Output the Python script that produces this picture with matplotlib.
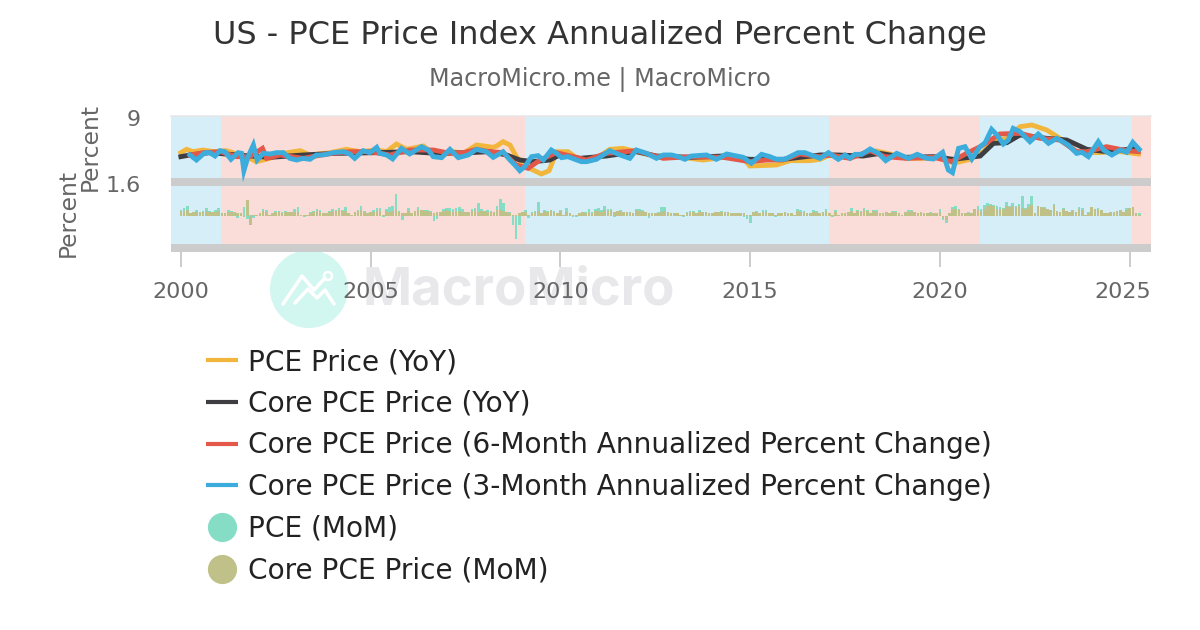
import numpy as np
import matplotlib
matplotlib.use('Agg')
import matplotlib.pyplot as plt
from matplotlib.lines import Line2D
from matplotlib.patches import Circle
from matplotlib.transforms import ScaledTranslation

# Line series: dates as decimal years, values in percent
pce_yoy_x = [2000.0, 2000.15, 2000.32, 2000.59, 2000.85, 2001.20, 2001.55, 2001.82, 2001.99, 2002.34, 2002.70, 2003.14,
             2003.40, 2003.93, 2004.36, 2004.72, 2005.16, 2005.42, 2005.68, 2005.95, 2006.39, 2006.74, 2007.18, 2007.44,
             2007.79, 2008.23, 2008.32, 2008.49, 2008.67, 2008.84, 2009.02, 2009.24, 2009.50, 2009.70, 2009.90, 2010.20,
             2010.51, 2010.95, 2011.30, 2011.65, 2012.00, 2012.53, 2013.06, 2013.76, 2014.29, 2014.82, 2014.99, 2015.69,
             2016.05, 2016.57, 2016.84, 2017.10, 2017.54, 2017.89, 2018.33, 2018.60, 2019.12, 2019.65, 2020.09, 2020.35,
             2020.79, 2021.14, 2021.41, 2021.76, 2022.11, 2022.42, 2022.81, 2023.16, 2023.60, 2024.13, 2024.75, 2025.23]
pce_yoy = [2.68, 3.25, 2.85, 3.14, 2.85, 3.02, 2.28, 1.70, 1.13, 1.70, 2.56, 3.02,
           2.28, 2.68, 3.25, 2.85, 3.14, 2.85, 4.17, 3.25, 3.83, 1.99, 2.85, 2.56,
           4.00, 3.60, 3.83, 4.57, 4.00, 1.99, 0.55, -0.20, -1.00, -0.43, 2.85, 2.85,
           1.41, 1.70, 3.25, 3.42, 2.85, 1.99, 1.99, 1.41, 1.87, 1.70, 0.38, 0.55,
           1.30, 1.30, 1.53, 2.28, 1.99, 2.28, 2.97, 2.56, 1.70, 1.70, 1.99, 0.84,
           1.53, 2.85, 4.57, 5.15, 7.16, 7.45, 6.59, 5.15, 2.85, 2.68, 2.85, 2.45]

core_yoy_x = [2000.0, 2000.24, 2000.76, 2001.47, 2002.35, 2003.22, 2004.10, 2005.16, 2006.03, 2006.74, 2007.61, 2008.14,
              2008.58, 2008.93, 2009.28, 2009.72, 2009.98, 2010.51, 2011.21, 2012.00, 2012.53, 2013.41, 2014.29, 2014.99,
              2015.87, 2016.31, 2016.84, 2017.28, 2017.98, 2018.42, 2019.04, 2019.83, 2020.35, 2021.06, 2021.41, 2021.76,
              2022.11, 2022.81, 2023.34, 2023.87, 2024.39, 2025.18]
core_yoy = [1.99, 2.28, 2.68, 2.28, 1.87, 2.28, 2.56, 2.68, 2.85, 2.56, 2.68, 2.85,
            2.28, 1.41, 1.13, 1.41, 2.28, 1.70, 2.10, 2.85, 2.10, 1.87, 2.10, 1.53,
            1.53, 1.87, 2.28, 2.28, 2.10, 2.56, 1.87, 1.99, 1.53, 2.10, 4.29, 4.40,
            5.73, 5.15, 4.86, 3.25, 2.85, 3.42]

core_6m_x = [2000.24, 2000.59, 2001.03, 2001.47, 2001.82, 2002.15, 2002.26, 2002.61, 2003.22, 2003.84, 2004.45, 2004.98,
             2005.51, 2006.03, 2006.65, 2007.09, 2007.44, 2007.79, 2008.14, 2008.49, 2008.84, 2009.15, 2009.46, 2009.90,
             2010.34, 2010.69, 2011.21, 2012.00, 2012.71, 2013.41, 2014.29, 2014.99, 2015.43, 2015.87, 2016.31, 2016.84,
             2017.10, 2017.63, 2018.16, 2018.55, 2019.12, 2019.83, 2020.31, 2020.70, 2021.06, 2021.58, 2022.11, 2022.64,
             2023.16, 2023.60, 2023.87, 2024.39, 2024.92, 2025.23]
core_6m = [2.28, 2.68, 2.85, 1.99, 1.99, 3.42, 1.70, 2.28, 1.70, 2.45, 2.85, 2.85,
           2.28, 3.14, 3.14, 2.56, 2.68, 3.25, 2.85, 2.68, 0.55, -0.02, 1.41, 2.68,
           1.99, 1.41, 2.56, 3.02, 1.70, 1.99, 1.87, 1.13, 1.41, 1.41, 2.45, 1.99,
           2.28, 1.70, 3.02, 1.99, 1.70, 1.87, 1.13, 2.56, 3.71, 5.90, 6.01, 5.15,
           4.86, 2.85, 2.85, 3.71, 3.02, 2.85]

core_3m_x = [2000.24, 2000.41, 2000.63, 2000.76, 2000.90, 2001.03, 2001.16, 2001.32, 2001.51, 2001.60, 2001.66, 2001.77,
             2001.91, 2002.01, 2002.17, 2002.35, 2002.52, 2002.70, 2002.87, 2003.05, 2003.22, 2003.40, 2003.57, 2003.75,
             2004.01, 2004.28, 2004.45, 2004.58, 2004.80, 2004.98, 2005.16, 2005.24, 2005.42, 2005.58, 2005.81, 2006.03,
             2006.34, 2006.52, 2006.65, 2006.87, 2007.09, 2007.31, 2007.57, 2007.79, 2008.05, 2008.23, 2008.49, 2008.67,
             2008.80, 2008.93, 2009.06, 2009.24, 2009.41, 2009.55, 2009.76, 2009.90, 2010.03, 2010.20, 2010.38, 2010.55,
             2010.69, 2010.95, 2011.30, 2011.57, 2011.83, 2012.00, 2012.27, 2012.53, 2012.71, 2012.93, 2013.10, 2013.28,
             2013.45, 2013.85, 2014.11, 2014.38, 2014.64, 2014.82, 2015.03, 2015.30, 2015.52, 2015.69, 2015.91, 2016.26,
             2016.44, 2016.84, 2017.06, 2017.32, 2017.50, 2017.63, 2017.76, 2017.94, 2018.16, 2018.38, 2018.57, 2018.86,
             2019.17, 2019.40, 2019.65, 2019.83, 2020.07, 2020.22, 2020.33, 2020.49, 2020.66, 2020.84, 2021.04, 2021.19,
             2021.36, 2021.50, 2021.67, 2021.80, 2021.93, 2022.11, 2022.37, 2022.59, 2022.86, 2023.08, 2023.38, 2023.60,
             2023.74, 2023.91, 2024.17, 2024.31, 2024.53, 2024.75, 2024.92, 2025.08, 2025.25]
core_3m = [2.28, 1.41, 2.68, 2.68, 2.10, 3.02, 2.85, 1.53, 2.68, 2.56, -0.43, 1.99,
           4.00, 1.41, 2.56, 2.45, 2.68, 2.68, 1.70, 1.41, 1.70, 1.53, 2.28, 2.28,
           2.68, 2.85, 2.45, 1.70, 3.02, 2.68, 3.60, 2.56, 2.28, 1.59, 3.42, 2.45,
           3.71, 3.14, 1.99, 1.82, 3.25, 1.82, 2.28, 3.25, 2.85, 1.87, 2.85, 1.41,
           0.55, -0.43, 0.26, 1.99, 2.16, 1.41, 3.14, 2.56, 1.82, 1.99, 1.53, 1.13,
           1.13, 1.53, 3.02, 2.28, 1.70, 3.14, 2.56, 1.70, 2.28, 2.28, 1.99, 1.53,
           2.10, 2.28, 1.53, 2.45, 2.10, 1.87, 0.84, 2.39, 1.99, 1.53, 1.53, 2.68,
           2.68, 1.70, 2.68, 1.53, 2.28, 1.70, 2.39, 2.39, 3.31, 2.56, 1.30, 2.56,
           1.70, 2.39, 1.70, 1.59, 2.74, -0.31, -0.77, 3.42, 3.71, 1.59, 3.60, 4.40,
           6.70, 5.73, 4.17, 4.86, 6.87, 6.30, 4.57, 5.90, 4.29, 5.15, 4.00, 2.56,
           2.74, 1.99, 4.57, 3.14, 2.28, 3.14, 2.74, 4.46, 3.25]

# Monthly changes from Jan 2000, one row per year
pce_mom = [0.25, 0.35, 0.45, 0.10, 0.15, 0.25, 0.15, 0.20, 0.35, 0.20, 0.15, 0.25,
           0.35, 0.10, 0.10, 0.25, 0.20, 0.15, -0.10, 0.05, 0.40, -0.15, 0.05, -0.10,
           0.05, 0.10, 0.30, 0.25, 0.05, 0.10, 0.20, 0.20, 0.15, 0.20, 0.15, 0.15,
           0.30, 0.40, 0.05, -0.05, 0.05, 0.15, 0.20, 0.30, 0.25, 0.10, 0.05, 0.20,
           0.30, 0.25, 0.35, 0.25, 0.40, 0.10, 0.05, 0.15, 0.25, 0.45, 0.20, 0.10,
           0.15, 0.25, 0.35, 0.35, -0.05, 0.30, 0.40, 0.45, 1.05, 0.20, -0.20, 0.10,
           0.35, 0.05, 0.15, 0.40, 0.25, 0.25, 0.25, 0.20, -0.25, -0.15, 0.10, 0.30,
           0.35, 0.35, 0.30, 0.35, 0.40, 0.30, 0.15, 0.15, 0.30, 0.35, 0.60, 0.30,
           0.20, 0.25, 0.20, 0.15, 0.45, 0.80, 0.60, 0.15, 0.15, -0.43, -1.10, -0.43,
           0.15, 0.25, -0.10, 0.15, 0.20, 0.65, 0.05, 0.25, 0.20, 0.25, 0.20, 0.10,
           0.25, 0.05, 0.35, 0.10, -0.05, -0.05, 0.05, 0.15, 0.15, 0.30, 0.15, 0.30,
           0.35, 0.25, 0.45, 0.30, 0.30, -0.05, 0.20, 0.25, 0.15, 0.05, 0.10, 0.10,
           0.30, 0.30, 0.25, 0.05, -0.10, 0.05, 0.10, 0.15, 0.40, 0.40, 0.15, 0.10,
           0.05, 0.10, 0.05, -0.05, 0.15, 0.20, 0.20, 0.10, 0.25, 0.15, 0.10, 0.10,
           0.10, 0.15, 0.15, 0.20, 0.15, 0.15, 0.10, 0.05, 0.10, 0.10, -0.05, -0.15,
           -0.35, 0.15, 0.20, 0.10, 0.25, 0.25, 0.10, 0.10, -0.05, 0.10, 0.05, 0.15,
           0.05, 0.10, 0.05, 0.30, 0.25, 0.20, 0.05, 0.10, 0.25, 0.20, 0.10, 0.15,
           0.30, 0.10, -0.05, 0.25, 0.05, 0.10, 0.05, 0.15, 0.35, 0.10, 0.25, 0.20,
           0.35, 0.25, 0.10, 0.25, 0.25, 0.10, 0.10, 0.15, 0.10, 0.20, 0.20, 0.10,
           0.05, 0.15, 0.25, 0.25, 0.15, 0.10, 0.15, 0.10, 0.10, 0.15, 0.10, 0.10,
           0.30, -0.20, -0.35, 0.10, 0.40, 0.45, 0.30, 0.10, 0.10, 0.15, 0.05, 0.20,
           0.45, 0.30, 0.50, 0.60, 0.55, 0.50, 0.45, 0.40, 0.35, 0.65, 0.45, 0.60,
           0.45, 0.55, 0.95, 0.35, 0.55, 0.95, 0.10, 0.05, 0.35, 0.40, 0.30, 0.25,
           0.55, 0.20, 0.15, 0.35, 0.20, 0.15, 0.25, 0.15, 0.40, 0.35, 0.05, 0.15,
           0.40, 0.30, 0.35, 0.25, 0.05, 0.05, 0.15, 0.15, 0.15, 0.25, 0.15, 0.35,
           0.35, 0.35, 0.10, 0.10]
core_mom = [0.20, 0.20, 0.25, 0.10, 0.15, 0.15, 0.15, 0.15, 0.20, 0.15, 0.15, 0.15,
            0.20, 0.10, 0.10, 0.15, 0.15, 0.15, 0.10, 0.10, -0.05, 0.75, -0.45, 0.05,
            0.05, 0.10, 0.20, 0.15, 0.05, 0.10, 0.15, 0.15, 0.10, 0.15, 0.15, 0.15,
            0.15, 0.15, 0.05, 0.05, 0.05, 0.10, 0.15, 0.20, 0.15, 0.10, 0.10, 0.15,
            0.20, 0.20, 0.25, 0.20, 0.20, 0.10, 0.05, 0.15, 0.20, 0.25, 0.15, 0.10,
            0.15, 0.15, 0.20, 0.20, 0.05, 0.20, 0.15, 0.20, 0.25, 0.15, 0.10, 0.10,
            0.20, 0.10, 0.20, 0.25, 0.25, 0.20, 0.20, 0.15, 0.10, 0.15, 0.15, 0.20,
            0.25, 0.20, 0.15, 0.15, 0.20, 0.15, 0.15, 0.15, 0.20, 0.25, 0.15, 0.20,
            0.20, 0.15, 0.15, 0.15, 0.25, 0.25, 0.20, 0.15, 0.10, 0.05, 0.05, 0.10,
            0.15, 0.15, 0.05, 0.10, 0.15, 0.20, 0.10, 0.20, 0.15, 0.25, 0.15, 0.10,
            0.20, 0.05, 0.15, 0.10, 0.05, 0.05, 0.10, 0.15, 0.10, 0.15, 0.10, 0.20,
            0.20, 0.15, 0.25, 0.20, 0.25, 0.15, 0.20, 0.20, 0.15, 0.15, 0.15, 0.10,
            0.25, 0.20, 0.20, 0.15, 0.10, 0.10, 0.10, 0.10, 0.15, 0.20, 0.15, 0.10,
            0.10, 0.10, 0.05, 0.05, 0.10, 0.15, 0.15, 0.10, 0.15, 0.15, 0.15, 0.10,
            0.10, 0.15, 0.15, 0.15, 0.15, 0.15, 0.10, 0.10, 0.10, 0.10, 0.10, 0.05,
            0.05, 0.15, 0.15, 0.10, 0.15, 0.15, 0.10, 0.10, 0.05, 0.10, 0.10, 0.15,
            0.10, 0.10, 0.05, 0.20, 0.15, 0.15, 0.10, 0.10, 0.15, 0.15, 0.10, 0.15,
            0.20, 0.10, 0.05, 0.15, 0.05, 0.10, 0.10, 0.15, 0.20, 0.10, 0.20, 0.15,
            0.25, 0.20, 0.10, 0.20, 0.15, 0.10, 0.10, 0.15, 0.10, 0.15, 0.15, 0.10,
            0.05, 0.15, 0.15, 0.20, 0.15, 0.10, 0.15, 0.10, 0.10, 0.10, 0.10, 0.10,
            0.15, -0.10, -0.20, 0.10, 0.30, 0.30, 0.25, 0.10, 0.10, 0.10, 0.10, 0.30,
            0.25, 0.20, 0.30, 0.45, 0.50, 0.45, 0.30, 0.30, 0.30, 0.45, 0.40, 0.45,
            0.40, 0.45, 0.35, 0.30, 0.40, 0.50, 0.10, 0.45, 0.40, 0.35, 0.30, 0.25,
            0.50, 0.20, 0.15, 0.30, 0.20, 0.15, 0.25, 0.15, 0.30, 0.25, 0.05, 0.10,
            0.40, 0.30, 0.30, 0.25, 0.10, 0.10, 0.15, 0.15, 0.20, 0.25, 0.15, 0.25,
            0.35, 0.40, 0.10, 0.05]

# Regime bands shown behind the series
band_edges = [1999.74, 2001.05, 2009.06, 2017.07, 2021.05, 2025.06, 2025.56]
band_colors = ['#D6EEF8', '#FADCD8', '#D6EEF8', '#FADCD8', '#D6EEF8', '#FADCD8']

year_ticks = [2000, 2005, 2010, 2015, 2020, 2025]

line_series = [
    ('PCE Price (YoY)', pce_yoy_x, pce_yoy, '#F2B63C'),
    ('Core PCE Price (YoY)', core_yoy_x, core_yoy, '#3D3D42'),
    ('Core PCE Price (6-Month Annualized Percent Change)', core_6m_x, core_6m, '#E4584A'),
    ('Core PCE Price (3-Month Annualized Percent Change)', core_3m_x, core_3m, '#3BACDC'),
]
TEAL = '#86DDC6'
OLIVE = '#C0C188'
GREY_TEXT = '#666666'
BAND_GREY = '#CCCCCC'

W, H = 1200, 630
px = 72 / 100  # one pixel in points


def axes_box(top, bottom, left=171, right=1151):
    return [left / W, 1 - bottom / H, (right - left) / W, (bottom - top) / H]


fig = plt.figure(figsize=(12, 6.3), dpi=100, facecolor='white')

# Watermark layer under everything, in pixel coordinates
wm = fig.add_axes([0, 0, 1, 1], zorder=-1)
wm.set_xlim(0, W)
wm.set_ylim(H, 0)
wm.axis('off')
wm.add_patch(Circle((309, 289), 39, color='#D2F7F0', lw=0))
wm.plot([283, 302, 314, 325], [304, 276, 290, 278], color='white', lw=3.5 * px, solid_capstyle='round')
wm.plot([295, 308, 317, 325, 334], [303, 289, 298, 290, 304], color='white', lw=3.5 * px, solid_capstyle='round')
wm.add_patch(Circle((328, 276), 4, facecolor='none', edgecolor='white', lw=2.5 * px))
wm.text(362, 291, 'MacroMicro', fontsize=37.9, family='Inter', weight='bold', color='#E8E8EA', va='center', ha='left')

ax1 = fig.add_axes(axes_box(116, 182), zorder=2)
ax2 = fig.add_axes(axes_box(182, 248), zorder=1)

for ax in (ax1, ax2):
    for i, c in enumerate(band_colors):
        ax.axvspan(band_edges[i], band_edges[i + 1], color=c, lw=0, zorder=0)
    ax.set_xlim(band_edges[0], band_edges[-1])
    for side in ('left', 'right', 'top'):
        ax.spines[side].set_visible(False)
    ax.spines['bottom'].set_linewidth(8 * px)
    ax.spines['bottom'].set_color(BAND_GREY)
    ax.spines['bottom'].set_capstyle('butt')

ax1.spines['top'].set_visible(True)
ax1.spines['top'].set_color('#E6E6E6')
ax1.spines['top'].set_linewidth(1.5 * px)

# Upper panel: annualized rates
for name, xs, ys, color in line_series:
    ax1.plot(xs, ys, color=color, lw=3.5, solid_joinstyle='miter', zorder=3)
ax1.set_ylim(9 - 66 / 5.8, 9)
ax1.set_yticks([9])
ax1.set_xticks([])

# Lower panel: monthly changes
months = 2000 + np.arange(len(pce_mom)) / 12
ax2.bar(months, pce_mom, width=0.07, color=TEAL, lw=0, zorder=2)
ax2.bar(months, core_mom, width=0.07, color=OLIVE, lw=0, zorder=3)
ax2.set_ylim(1.6 - 66 / 21, 1.6)
ax2.set_yticks([1.6])
ax2.set_xticks(year_ticks)
ax2.tick_params(axis='x', length=19 * px, width=2 * px, color=BAND_GREY, pad=11, labelsize=16, labelcolor=GREY_TEXT)

for ax in (ax1, ax2):
    ax.tick_params(axis='y', length=0, pad=22, labelsize=16, labelcolor=GREY_TEXT)
    for lab in ax.get_yticklabels():
        lab.set_transform(lab.get_transform() + ScaledTranslation(0, -2 / 100, fig.dpi_scale_trans))

# The last year label is pulled left so it stays inside the plot width
last_label = ax2.get_xticklabels()[-1]
last_label.set_transform(last_label.get_transform() + ScaledTranslation(-7 / 100, 0, fig.dpi_scale_trans))

fig.text(600 / W, 1 - 35.5 / H, 'US - PCE Price Index Annualized Percent Change', fontsize=23.05, color='#333333',
         ha='center', va='center')
fig.text(600 / W, 1 - 79 / H, 'MacroMicro.me | MacroMicro', fontsize=17.2, color=GREY_TEXT, ha='center', va='center')
fig.text(90.5 / W, 1 - 147 / H, 'Percent', fontsize=16.8, color=GREY_TEXT, rotation=90, ha='center', va='center')
fig.text(68.5 / W, 1 - 213 / H, 'Percent', fontsize=16.8, color=GREY_TEXT, rotation=90, ha='center', va='center')

handles = [Line2D([], [], color=c, lw=3, solid_capstyle='butt', label=n) for n, _, _, c in line_series]
handles.append(Line2D([], [], color=TEAL, marker='o', ms=20, ls='none', label='PCE (MoM)'))
handles.append(Line2D([], [], color=OLIVE, marker='o', ms=20, ls='none', label='Core PCE Price (MoM)'))
fig.legend(handles=handles, loc='upper left', bbox_to_anchor=(206 / W, 1 - 348 / H), frameon=False, fontsize=20.18,
           handlelength=1.14, handletextpad=0.36, labelspacing=0.49, borderpad=0, borderaxespad=0,
           labelcolor='#222222')

fig.savefig('out.png', dpi=100)
